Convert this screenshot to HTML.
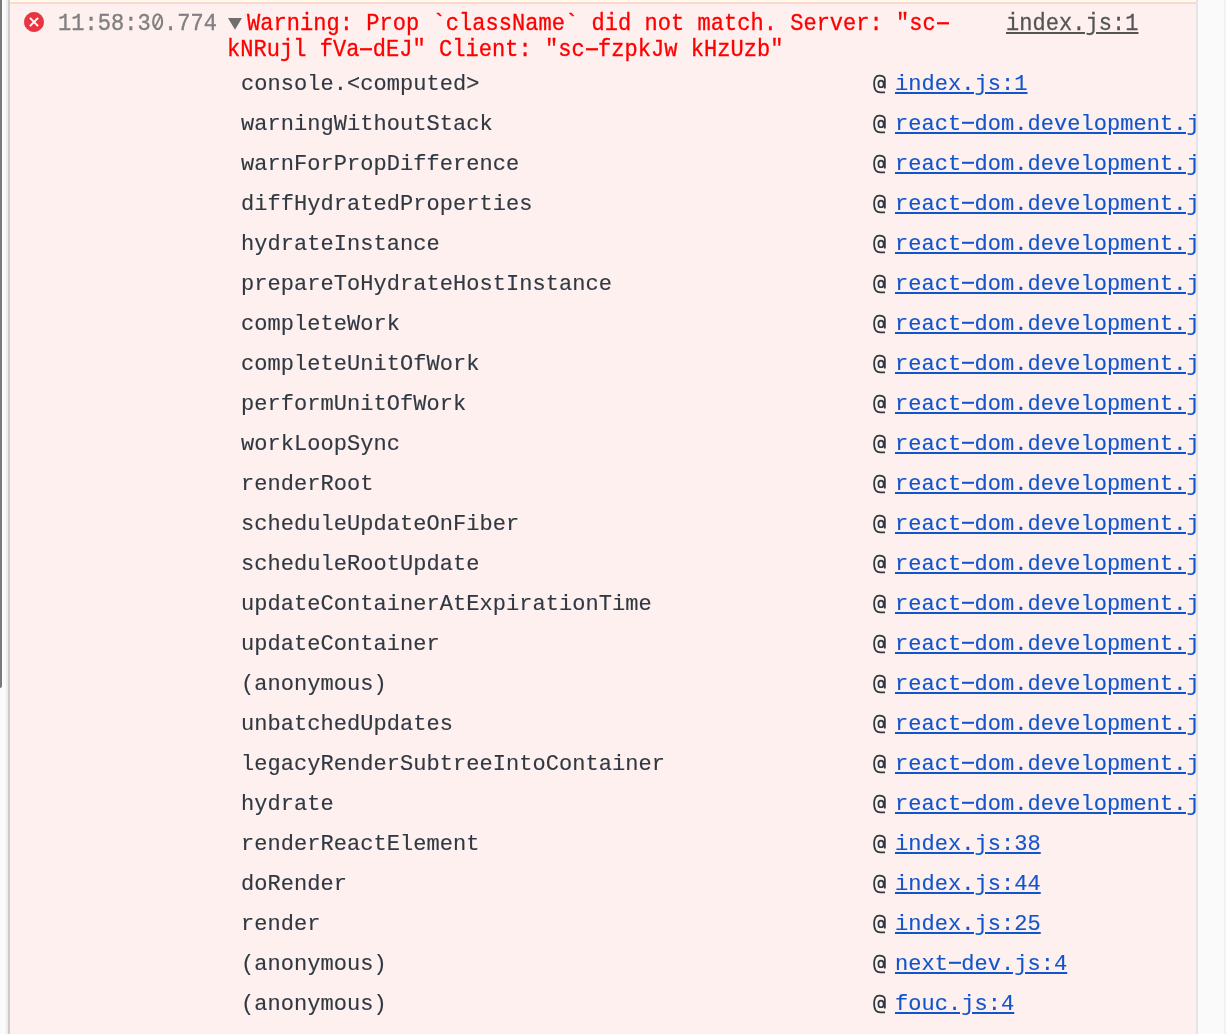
<!DOCTYPE html>
<html><head><meta charset="utf-8"><style>
html,body{margin:0;padding:0;}
body{width:1226px;height:1034px;overflow:hidden;position:relative;background:#fafafa;font-family:"Liberation Mono",monospace;font-size:22px;}
.b{position:absolute;}
.clip{position:absolute;left:0;top:0;width:1196px;height:1034px;overflow:hidden;}
.t{position:absolute;line-height:40px;height:40px;white-space:pre;transform:scaleY(1.03);transform-origin:0 25px;will-change:transform;-webkit-text-stroke:0.15px currentColor;letter-spacing:0.045px;}
.at{position:absolute;}
.dh{position:relative;color:transparent;-webkit-text-stroke:0;}
.dh::after{content:"";position:absolute;left:0.8px;width:12px;background:var(--c);}
.err .dh::after{top:11.31px;height:1.79px;}
.lnk .dh::after{top:9.93px;height:1.94px;}
.ts{color:#808080;-webkit-text-stroke:0.35px #808080;}
.z{color:transparent;-webkit-text-stroke:0;}
.err{color:#ff0000;--c:#ff0000;-webkit-text-stroke:0.3px #ff0000;}
.src{color:#545454;-webkit-text-stroke:0.25px #545454;}
.fn{color:#303942;}
.lnk{color:#1155cc;--c:#1155cc;}
.ulx{position:absolute;line-height:40px;height:40px;white-space:pre;color:transparent;text-decoration:underline;text-decoration-thickness:2px;text-underline-offset:2px;text-decoration-skip-ink:auto;letter-spacing:0.045px;}
.srcul{text-decoration-color:#545454;}
.lnkul{text-decoration-color:#1155cc;}
</style></head><body>
<div class="b" style="left:10px;top:0;width:1186px;height:1034px;background:#fff0f0"></div>
<div class="b" style="left:10px;top:0;width:1186px;height:2px;background:#fffde6"></div>
<div class="b" style="left:10px;top:2px;width:1186px;height:2px;background:#ffd5d5"></div>
<div class="b" style="left:0;top:0;width:6px;height:1034px;background:#fafafa"></div><div class="b" style="left:2px;top:0;width:1px;height:690px;background:#ffffff;border-radius:0 0 1px 1px"></div>
<div class="b" style="left:6px;top:0;width:2px;height:1034px;background:#ededed"></div>
<div class="b" style="left:8px;top:0;width:2px;height:1034px;background:#cccccc"></div>
<div class="b" style="left:0;top:0;width:2px;height:688px;background:#787878;border-radius:0 0 2px 0"></div>
<div class="b" style="left:1196px;top:0;width:2px;height:1034px;background:#e5e5e5"></div>
<div class="b" style="left:1224px;top:0;width:2px;height:1034px;background:#f1f1f1"></div>
<svg class="b" style="left:24px;top:12px" width="20" height="20" viewBox="0 0 20 20"><circle cx="10" cy="10" r="9.7" fill="#ec3440" stroke="#d42430" stroke-width="0.6"/><path d="M5.9 5.9L14.1 14.1M14.1 5.9L5.9 14.1" stroke="#fff" stroke-width="2"/></svg>
<svg class="b" style="left:228px;top:18px" width="14" height="12" viewBox="0 0 14 12"><path d="M0 0H14L7 11.7Z" fill="#6e6e6e"/></svg>
<div class="clip">
<div class="t ts" style="left:58px;top:5px;transform:scaleY(1.12)">11:58:3<span class="z">0</span>.774</div>
<svg class="at" style="left:150px;top:10px" width="16" height="24" viewBox="0 0 16 24"><ellipse cx="7.65" cy="11.65" rx="4.5" ry="7.4" fill="none" stroke="#808080" stroke-width="2.1"/><path d="M5 17.2L10.9 5.4" stroke="#808080" stroke-width="1.8"/></svg>
<div class="t err" style="left:247px;top:5px;transform:scaleY(1.12)">Warning: Prop `className` did not match. Server: &quot;sc<span class="dh">-</span></div>
<div class="t err" style="left:227px;top:31px;transform:scaleY(1.12)">kNRujl fVa<span class="dh">-</span>dEJ&quot; Client: &quot;sc<span class="dh">-</span>fzpkJw kHzUzb&quot;</div>
<div class="t src" style="left:1006px;top:5px;transform:scaleY(1.12)">index.js:1</div>
<div class="ulx srcul" style="left:1006px;top:5px">index.js:1</div>
<div class="t fn" style="left:241px;top:65px">console.&lt;computed&gt;</div>
<svg class="at" style="left:866px;top:66px" width="26" height="32" viewBox="0 0 26 32"><path d="M18.85 22.6V13.5C18.85 11 16.5 9.7 13.2 9.7C9.8 9.7 8.1 12.8 8.1 18C8.1 23.5 10.5 26.4 14.5 26.4L19 26.4" fill="none" stroke="#303942" stroke-width="1.8"/><ellipse cx="15.0" cy="17.9" rx="2.65" ry="3.35" fill="none" stroke="#303942" stroke-width="1.7"/></svg>
<div class="t lnk" style="left:895px;top:65px">index.js:1</div>
<div class="ulx lnkul" style="left:895px;top:65px">index.js:1</div>
<div class="t fn" style="left:241px;top:105px">warningWithoutStack</div>
<svg class="at" style="left:866px;top:106px" width="26" height="32" viewBox="0 0 26 32"><path d="M18.85 22.6V13.5C18.85 11 16.5 9.7 13.2 9.7C9.8 9.7 8.1 12.8 8.1 18C8.1 23.5 10.5 26.4 14.5 26.4L19 26.4" fill="none" stroke="#303942" stroke-width="1.8"/><ellipse cx="15.0" cy="17.9" rx="2.65" ry="3.35" fill="none" stroke="#303942" stroke-width="1.7"/></svg>
<div class="t lnk" style="left:895px;top:105px">react<span class="dh">-</span>dom.development.js:88</div>
<div class="ulx lnkul" style="left:895px;top:105px">react-dom.development.js:88</div>
<div class="t fn" style="left:241px;top:145px">warnForPropDifference</div>
<svg class="at" style="left:866px;top:146px" width="26" height="32" viewBox="0 0 26 32"><path d="M18.85 22.6V13.5C18.85 11 16.5 9.7 13.2 9.7C9.8 9.7 8.1 12.8 8.1 18C8.1 23.5 10.5 26.4 14.5 26.4L19 26.4" fill="none" stroke="#303942" stroke-width="1.8"/><ellipse cx="15.0" cy="17.9" rx="2.65" ry="3.35" fill="none" stroke="#303942" stroke-width="1.7"/></svg>
<div class="t lnk" style="left:895px;top:145px">react<span class="dh">-</span>dom.development.js:88</div>
<div class="ulx lnkul" style="left:895px;top:145px">react-dom.development.js:88</div>
<div class="t fn" style="left:241px;top:185px">diffHydratedProperties</div>
<svg class="at" style="left:866px;top:186px" width="26" height="32" viewBox="0 0 26 32"><path d="M18.85 22.6V13.5C18.85 11 16.5 9.7 13.2 9.7C9.8 9.7 8.1 12.8 8.1 18C8.1 23.5 10.5 26.4 14.5 26.4L19 26.4" fill="none" stroke="#303942" stroke-width="1.8"/><ellipse cx="15.0" cy="17.9" rx="2.65" ry="3.35" fill="none" stroke="#303942" stroke-width="1.7"/></svg>
<div class="t lnk" style="left:895px;top:185px">react<span class="dh">-</span>dom.development.js:88</div>
<div class="ulx lnkul" style="left:895px;top:185px">react-dom.development.js:88</div>
<div class="t fn" style="left:241px;top:225px">hydrateInstance</div>
<svg class="at" style="left:866px;top:226px" width="26" height="32" viewBox="0 0 26 32"><path d="M18.85 22.6V13.5C18.85 11 16.5 9.7 13.2 9.7C9.8 9.7 8.1 12.8 8.1 18C8.1 23.5 10.5 26.4 14.5 26.4L19 26.4" fill="none" stroke="#303942" stroke-width="1.8"/><ellipse cx="15.0" cy="17.9" rx="2.65" ry="3.35" fill="none" stroke="#303942" stroke-width="1.7"/></svg>
<div class="t lnk" style="left:895px;top:225px">react<span class="dh">-</span>dom.development.js:88</div>
<div class="ulx lnkul" style="left:895px;top:225px">react-dom.development.js:88</div>
<div class="t fn" style="left:241px;top:265px">prepareToHydrateHostInstance</div>
<svg class="at" style="left:866px;top:266px" width="26" height="32" viewBox="0 0 26 32"><path d="M18.85 22.6V13.5C18.85 11 16.5 9.7 13.2 9.7C9.8 9.7 8.1 12.8 8.1 18C8.1 23.5 10.5 26.4 14.5 26.4L19 26.4" fill="none" stroke="#303942" stroke-width="1.8"/><ellipse cx="15.0" cy="17.9" rx="2.65" ry="3.35" fill="none" stroke="#303942" stroke-width="1.7"/></svg>
<div class="t lnk" style="left:895px;top:265px">react<span class="dh">-</span>dom.development.js:88</div>
<div class="ulx lnkul" style="left:895px;top:265px">react-dom.development.js:88</div>
<div class="t fn" style="left:241px;top:305px">completeWork</div>
<svg class="at" style="left:866px;top:306px" width="26" height="32" viewBox="0 0 26 32"><path d="M18.85 22.6V13.5C18.85 11 16.5 9.7 13.2 9.7C9.8 9.7 8.1 12.8 8.1 18C8.1 23.5 10.5 26.4 14.5 26.4L19 26.4" fill="none" stroke="#303942" stroke-width="1.8"/><ellipse cx="15.0" cy="17.9" rx="2.65" ry="3.35" fill="none" stroke="#303942" stroke-width="1.7"/></svg>
<div class="t lnk" style="left:895px;top:305px">react<span class="dh">-</span>dom.development.js:88</div>
<div class="ulx lnkul" style="left:895px;top:305px">react-dom.development.js:88</div>
<div class="t fn" style="left:241px;top:345px">completeUnitOfWork</div>
<svg class="at" style="left:866px;top:346px" width="26" height="32" viewBox="0 0 26 32"><path d="M18.85 22.6V13.5C18.85 11 16.5 9.7 13.2 9.7C9.8 9.7 8.1 12.8 8.1 18C8.1 23.5 10.5 26.4 14.5 26.4L19 26.4" fill="none" stroke="#303942" stroke-width="1.8"/><ellipse cx="15.0" cy="17.9" rx="2.65" ry="3.35" fill="none" stroke="#303942" stroke-width="1.7"/></svg>
<div class="t lnk" style="left:895px;top:345px">react<span class="dh">-</span>dom.development.js:88</div>
<div class="ulx lnkul" style="left:895px;top:345px">react-dom.development.js:88</div>
<div class="t fn" style="left:241px;top:385px">performUnitOfWork</div>
<svg class="at" style="left:866px;top:386px" width="26" height="32" viewBox="0 0 26 32"><path d="M18.85 22.6V13.5C18.85 11 16.5 9.7 13.2 9.7C9.8 9.7 8.1 12.8 8.1 18C8.1 23.5 10.5 26.4 14.5 26.4L19 26.4" fill="none" stroke="#303942" stroke-width="1.8"/><ellipse cx="15.0" cy="17.9" rx="2.65" ry="3.35" fill="none" stroke="#303942" stroke-width="1.7"/></svg>
<div class="t lnk" style="left:895px;top:385px">react<span class="dh">-</span>dom.development.js:88</div>
<div class="ulx lnkul" style="left:895px;top:385px">react-dom.development.js:88</div>
<div class="t fn" style="left:241px;top:425px">workLoopSync</div>
<svg class="at" style="left:866px;top:426px" width="26" height="32" viewBox="0 0 26 32"><path d="M18.85 22.6V13.5C18.85 11 16.5 9.7 13.2 9.7C9.8 9.7 8.1 12.8 8.1 18C8.1 23.5 10.5 26.4 14.5 26.4L19 26.4" fill="none" stroke="#303942" stroke-width="1.8"/><ellipse cx="15.0" cy="17.9" rx="2.65" ry="3.35" fill="none" stroke="#303942" stroke-width="1.7"/></svg>
<div class="t lnk" style="left:895px;top:425px">react<span class="dh">-</span>dom.development.js:88</div>
<div class="ulx lnkul" style="left:895px;top:425px">react-dom.development.js:88</div>
<div class="t fn" style="left:241px;top:465px">renderRoot</div>
<svg class="at" style="left:866px;top:466px" width="26" height="32" viewBox="0 0 26 32"><path d="M18.85 22.6V13.5C18.85 11 16.5 9.7 13.2 9.7C9.8 9.7 8.1 12.8 8.1 18C8.1 23.5 10.5 26.4 14.5 26.4L19 26.4" fill="none" stroke="#303942" stroke-width="1.8"/><ellipse cx="15.0" cy="17.9" rx="2.65" ry="3.35" fill="none" stroke="#303942" stroke-width="1.7"/></svg>
<div class="t lnk" style="left:895px;top:465px">react<span class="dh">-</span>dom.development.js:88</div>
<div class="ulx lnkul" style="left:895px;top:465px">react-dom.development.js:88</div>
<div class="t fn" style="left:241px;top:505px">scheduleUpdateOnFiber</div>
<svg class="at" style="left:866px;top:506px" width="26" height="32" viewBox="0 0 26 32"><path d="M18.85 22.6V13.5C18.85 11 16.5 9.7 13.2 9.7C9.8 9.7 8.1 12.8 8.1 18C8.1 23.5 10.5 26.4 14.5 26.4L19 26.4" fill="none" stroke="#303942" stroke-width="1.8"/><ellipse cx="15.0" cy="17.9" rx="2.65" ry="3.35" fill="none" stroke="#303942" stroke-width="1.7"/></svg>
<div class="t lnk" style="left:895px;top:505px">react<span class="dh">-</span>dom.development.js:88</div>
<div class="ulx lnkul" style="left:895px;top:505px">react-dom.development.js:88</div>
<div class="t fn" style="left:241px;top:545px">scheduleRootUpdate</div>
<svg class="at" style="left:866px;top:546px" width="26" height="32" viewBox="0 0 26 32"><path d="M18.85 22.6V13.5C18.85 11 16.5 9.7 13.2 9.7C9.8 9.7 8.1 12.8 8.1 18C8.1 23.5 10.5 26.4 14.5 26.4L19 26.4" fill="none" stroke="#303942" stroke-width="1.8"/><ellipse cx="15.0" cy="17.9" rx="2.65" ry="3.35" fill="none" stroke="#303942" stroke-width="1.7"/></svg>
<div class="t lnk" style="left:895px;top:545px">react<span class="dh">-</span>dom.development.js:88</div>
<div class="ulx lnkul" style="left:895px;top:545px">react-dom.development.js:88</div>
<div class="t fn" style="left:241px;top:585px">updateContainerAtExpirationTime</div>
<svg class="at" style="left:866px;top:586px" width="26" height="32" viewBox="0 0 26 32"><path d="M18.85 22.6V13.5C18.85 11 16.5 9.7 13.2 9.7C9.8 9.7 8.1 12.8 8.1 18C8.1 23.5 10.5 26.4 14.5 26.4L19 26.4" fill="none" stroke="#303942" stroke-width="1.8"/><ellipse cx="15.0" cy="17.9" rx="2.65" ry="3.35" fill="none" stroke="#303942" stroke-width="1.7"/></svg>
<div class="t lnk" style="left:895px;top:585px">react<span class="dh">-</span>dom.development.js:88</div>
<div class="ulx lnkul" style="left:895px;top:585px">react-dom.development.js:88</div>
<div class="t fn" style="left:241px;top:625px">updateContainer</div>
<svg class="at" style="left:866px;top:626px" width="26" height="32" viewBox="0 0 26 32"><path d="M18.85 22.6V13.5C18.85 11 16.5 9.7 13.2 9.7C9.8 9.7 8.1 12.8 8.1 18C8.1 23.5 10.5 26.4 14.5 26.4L19 26.4" fill="none" stroke="#303942" stroke-width="1.8"/><ellipse cx="15.0" cy="17.9" rx="2.65" ry="3.35" fill="none" stroke="#303942" stroke-width="1.7"/></svg>
<div class="t lnk" style="left:895px;top:625px">react<span class="dh">-</span>dom.development.js:88</div>
<div class="ulx lnkul" style="left:895px;top:625px">react-dom.development.js:88</div>
<div class="t fn" style="left:241px;top:665px">(anonymous)</div>
<svg class="at" style="left:866px;top:666px" width="26" height="32" viewBox="0 0 26 32"><path d="M18.85 22.6V13.5C18.85 11 16.5 9.7 13.2 9.7C9.8 9.7 8.1 12.8 8.1 18C8.1 23.5 10.5 26.4 14.5 26.4L19 26.4" fill="none" stroke="#303942" stroke-width="1.8"/><ellipse cx="15.0" cy="17.9" rx="2.65" ry="3.35" fill="none" stroke="#303942" stroke-width="1.7"/></svg>
<div class="t lnk" style="left:895px;top:665px">react<span class="dh">-</span>dom.development.js:88</div>
<div class="ulx lnkul" style="left:895px;top:665px">react-dom.development.js:88</div>
<div class="t fn" style="left:241px;top:705px">unbatchedUpdates</div>
<svg class="at" style="left:866px;top:706px" width="26" height="32" viewBox="0 0 26 32"><path d="M18.85 22.6V13.5C18.85 11 16.5 9.7 13.2 9.7C9.8 9.7 8.1 12.8 8.1 18C8.1 23.5 10.5 26.4 14.5 26.4L19 26.4" fill="none" stroke="#303942" stroke-width="1.8"/><ellipse cx="15.0" cy="17.9" rx="2.65" ry="3.35" fill="none" stroke="#303942" stroke-width="1.7"/></svg>
<div class="t lnk" style="left:895px;top:705px">react<span class="dh">-</span>dom.development.js:88</div>
<div class="ulx lnkul" style="left:895px;top:705px">react-dom.development.js:88</div>
<div class="t fn" style="left:241px;top:745px">legacyRenderSubtreeIntoContainer</div>
<svg class="at" style="left:866px;top:746px" width="26" height="32" viewBox="0 0 26 32"><path d="M18.85 22.6V13.5C18.85 11 16.5 9.7 13.2 9.7C9.8 9.7 8.1 12.8 8.1 18C8.1 23.5 10.5 26.4 14.5 26.4L19 26.4" fill="none" stroke="#303942" stroke-width="1.8"/><ellipse cx="15.0" cy="17.9" rx="2.65" ry="3.35" fill="none" stroke="#303942" stroke-width="1.7"/></svg>
<div class="t lnk" style="left:895px;top:745px">react<span class="dh">-</span>dom.development.js:88</div>
<div class="ulx lnkul" style="left:895px;top:745px">react-dom.development.js:88</div>
<div class="t fn" style="left:241px;top:785px">hydrate</div>
<svg class="at" style="left:866px;top:786px" width="26" height="32" viewBox="0 0 26 32"><path d="M18.85 22.6V13.5C18.85 11 16.5 9.7 13.2 9.7C9.8 9.7 8.1 12.8 8.1 18C8.1 23.5 10.5 26.4 14.5 26.4L19 26.4" fill="none" stroke="#303942" stroke-width="1.8"/><ellipse cx="15.0" cy="17.9" rx="2.65" ry="3.35" fill="none" stroke="#303942" stroke-width="1.7"/></svg>
<div class="t lnk" style="left:895px;top:785px">react<span class="dh">-</span>dom.development.js:88</div>
<div class="ulx lnkul" style="left:895px;top:785px">react-dom.development.js:88</div>
<div class="t fn" style="left:241px;top:825px">renderReactElement</div>
<svg class="at" style="left:866px;top:826px" width="26" height="32" viewBox="0 0 26 32"><path d="M18.85 22.6V13.5C18.85 11 16.5 9.7 13.2 9.7C9.8 9.7 8.1 12.8 8.1 18C8.1 23.5 10.5 26.4 14.5 26.4L19 26.4" fill="none" stroke="#303942" stroke-width="1.8"/><ellipse cx="15.0" cy="17.9" rx="2.65" ry="3.35" fill="none" stroke="#303942" stroke-width="1.7"/></svg>
<div class="t lnk" style="left:895px;top:825px">index.js:38</div>
<div class="ulx lnkul" style="left:895px;top:825px">index.js:38</div>
<div class="t fn" style="left:241px;top:865px">doRender</div>
<svg class="at" style="left:866px;top:866px" width="26" height="32" viewBox="0 0 26 32"><path d="M18.85 22.6V13.5C18.85 11 16.5 9.7 13.2 9.7C9.8 9.7 8.1 12.8 8.1 18C8.1 23.5 10.5 26.4 14.5 26.4L19 26.4" fill="none" stroke="#303942" stroke-width="1.8"/><ellipse cx="15.0" cy="17.9" rx="2.65" ry="3.35" fill="none" stroke="#303942" stroke-width="1.7"/></svg>
<div class="t lnk" style="left:895px;top:865px">index.js:44</div>
<div class="ulx lnkul" style="left:895px;top:865px">index.js:44</div>
<div class="t fn" style="left:241px;top:905px">render</div>
<svg class="at" style="left:866px;top:906px" width="26" height="32" viewBox="0 0 26 32"><path d="M18.85 22.6V13.5C18.85 11 16.5 9.7 13.2 9.7C9.8 9.7 8.1 12.8 8.1 18C8.1 23.5 10.5 26.4 14.5 26.4L19 26.4" fill="none" stroke="#303942" stroke-width="1.8"/><ellipse cx="15.0" cy="17.9" rx="2.65" ry="3.35" fill="none" stroke="#303942" stroke-width="1.7"/></svg>
<div class="t lnk" style="left:895px;top:905px">index.js:25</div>
<div class="ulx lnkul" style="left:895px;top:905px">index.js:25</div>
<div class="t fn" style="left:241px;top:945px">(anonymous)</div>
<svg class="at" style="left:866px;top:946px" width="26" height="32" viewBox="0 0 26 32"><path d="M18.85 22.6V13.5C18.85 11 16.5 9.7 13.2 9.7C9.8 9.7 8.1 12.8 8.1 18C8.1 23.5 10.5 26.4 14.5 26.4L19 26.4" fill="none" stroke="#303942" stroke-width="1.8"/><ellipse cx="15.0" cy="17.9" rx="2.65" ry="3.35" fill="none" stroke="#303942" stroke-width="1.7"/></svg>
<div class="t lnk" style="left:895px;top:945px">next<span class="dh">-</span>dev.js:4</div>
<div class="ulx lnkul" style="left:895px;top:945px">next-dev.js:4</div>
<div class="t fn" style="left:241px;top:985px">(anonymous)</div>
<svg class="at" style="left:866px;top:986px" width="26" height="32" viewBox="0 0 26 32"><path d="M18.85 22.6V13.5C18.85 11 16.5 9.7 13.2 9.7C9.8 9.7 8.1 12.8 8.1 18C8.1 23.5 10.5 26.4 14.5 26.4L19 26.4" fill="none" stroke="#303942" stroke-width="1.8"/><ellipse cx="15.0" cy="17.9" rx="2.65" ry="3.35" fill="none" stroke="#303942" stroke-width="1.7"/></svg>
<div class="t lnk" style="left:895px;top:985px">fouc.js:4</div>
<div class="ulx lnkul" style="left:895px;top:985px">fouc.js:4</div>
</div>
</body></html>
